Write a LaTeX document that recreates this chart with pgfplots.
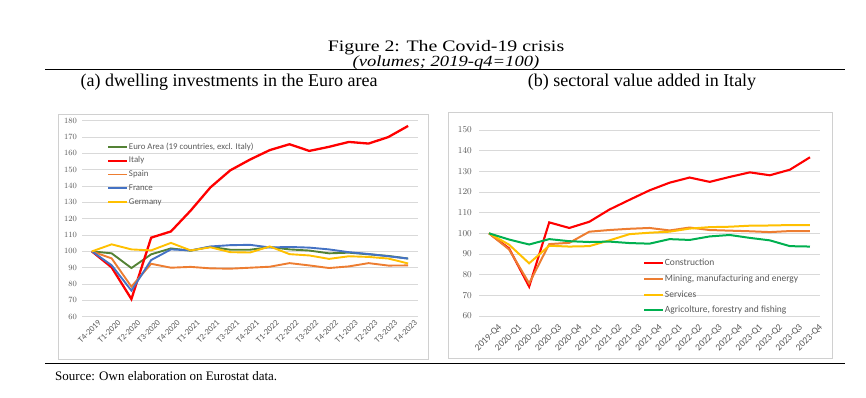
\documentclass[border=0pt]{standalone}
\usepackage{pgfplots}
\usepackage{pgfplotstable}
\pgfplotsset{compat=1.18}
\usepackage{fontspec}
\setmainfont{Liberation Serif}
\newfontfamily\calibri{Carlito}
\definecolor{cRed}{HTML}{FF0000}
\definecolor{cOrange}{HTML}{ED7D31}
\definecolor{cBlue}{HTML}{4472C4}
\definecolor{cYellow}{HTML}{FFC000}
\definecolor{cDGreen}{HTML}{548235}
\definecolor{cGreen}{HTML}{00B050}
\definecolor{cGrid}{HTML}{D9D9D9}
\definecolor{cFrame}{HTML}{D0D0D0}
\definecolor{cText}{HTML}{595959}

\pgfplotstableread{
x EA IT ES FR DE
0 100 100 100 100 100
1 98.8 90.2 95.7 91.5 104.3
2 89.8 70.8 78.4 76.0 101.2
3 98.2 108.4 92.4 94.7 100.6
4 101.8 112.2 90.0 101.2 105.2
5 100.4 125.0 90.5 100.6 100.6
6 102.8 139.2 89.6 103.0 102.5
7 101.0 149.6 89.4 103.8 99.5
8 101.0 156.2 90.0 104.0 99.3
9 102.6 162.0 90.6 102.4 103.0
10 101.2 165.6 92.8 102.7 98.3
11 100.5 161.5 91.4 102.3 97.5
12 98.8 164.0 89.8 101.2 95.4
13 99.2 167.0 90.8 99.5 97.0
14 98.2 166.0 92.8 98.4 96.6
15 97.2 170.0 91.3 97.0 95.6
16 95.6 176.8 91.4 95.6 92.6
}\tabA

\pgfplotstableread{
x CON MIN SER AGR
0 100 100 100 100
1 92.7 92.2 94.5 97.0
2 74.2 75.8 85.5 94.6
3 105.3 94.8 94.0 97.2
4 102.6 95.4 93.6 96.2
5 105.6 100.8 93.8 95.8
6 111.5 101.6 96.6 96.0
7 116.2 102.2 99.6 95.3
8 120.8 102.6 100.3 95.0
9 124.5 101.4 100.8 97.2
10 127.0 102.8 102.3 96.8
11 124.9 101.6 103.0 98.5
12 127.3 101.3 103.2 99.2
13 129.5 101.0 103.7 97.8
14 128.1 100.6 103.8 96.6
15 130.8 101.1 104.0 93.8
16 136.8 101.1 104.0 93.6
}\tabB

\pgfplotsset{
  excelstyle/.style={
    scale only axis,
    xmin=-0.5, xmax=16.5,
    xtick={0,...,16},
    axis line style={draw=none},
    major tick length=0pt,
    ymajorgrids,
    grid style={cGrid, line width=0.7pt},
    no markers,
    yticklabel style={anchor=east, inner sep=0pt},
    legend cell align=left,
    legend image code/.code={\draw[##1] (0pt,0pt) -- (19pt,0pt);},
  }
}

\begin{document}
\begin{tikzpicture}[x=1pt,y=1pt]
\path[use as bounding box] (0,0) rectangle (866,397);
% frames
\draw[cFrame, line width=0.8pt] (58,38) rectangle (428,283);
\draw[cFrame, line width=0.8pt] (448,39) rectangle (832,285);
% rules
\draw[line width=0.9pt] (45,327.5) -- (845,327.5);
\draw[line width=0.9pt] (45,34) -- (845,34);
% titles
\node[anchor=base, inner sep=0pt] at (446,345) {\scalebox{1.24}[1]{\fontsize{16}{18}\selectfont Figure 2: The Covid-19 crisis}};
\node[anchor=base, inner sep=0pt] at (446,330.5) {\scalebox{1.2}[1]{\fontsize{15.5}{18}\selectfont\itshape (volumes; 2019-q4=100)}};
\node[anchor=base, inner sep=0pt] at (229,310) {\fontsize{18}{20}\selectfont (a) dwelling investments in the Euro area};
\node[anchor=base, inner sep=0pt] at (642,310) {\fontsize{18}{20}\selectfont (b) sectoral value added in Italy};
\node[anchor=base west, inner sep=0pt] at (55,17) {\fontsize{13}{15}\selectfont Source: Own elaboration on Eurostat data.};

\begin{axis}[excelstyle,
  at={(82pt,80.3pt)}, anchor=south west,
  width=336pt, height=196pt,
  ymin=60, ymax=180, ytick={60,70,...,180},
  tick label style={font=\calibri\fontsize{8.5}{9}\selectfont, text=cText},
  yticklabel style={xshift=-5pt},
  xticklabels={T4-2019,T1-2020,T2-2020,T3-2020,T4-2020,T1-2021,T2-2021,T3-2021,T4-2021,T1-2022,T2-2022,T3-2022,T4-2022,T1-2023,T2-2023,T3-2023,T4-2023},
  xticklabel style={rotate=45, anchor=east, inner sep=0pt, xshift=2pt, yshift=-9pt},
  legend style={at={(0.074,0.9026)}, anchor=north west, draw=none, fill=none,
    font=\calibri\fontsize{8.8}{10}\selectfont, text=cText, inner sep=0pt,
    row sep=0pt, nodes={inner sep=0.6pt, minimum height=13.8pt},
    /tikz/every even column/.append style={column sep=0pt}},
]
\addplot[cDGreen, line width=1.9pt] table[x=x,y=EA]{\tabA};
\addlegendentry{Euro Area (19 countries, excl. Italy)}
\addplot[cRed, line width=2.3pt] table[x=x,y=IT]{\tabA};
\addlegendentry{Italy}
\addplot[cOrange, line width=1.9pt] table[x=x,y=ES]{\tabA};
\addlegendentry{Spain}
\addplot[cBlue, line width=1.9pt] table[x=x,y=FR]{\tabA};
\addlegendentry{France}
\addplot[cYellow, line width=1.9pt] table[x=x,y=DE]{\tabA};
\addlegendentry{Germany}
\end{axis}

\begin{axis}[excelstyle,
  at={(479pt,81pt)}, anchor=south west,
  width=341pt, height=186pt,
  ymin=60, ymax=150, ytick={60,70,...,150},
  tick label style={font=\calibri\fontsize{9.5}{10}\selectfont, text=cText},
  yticklabel style={xshift=-7pt},
  xticklabels={2019-Q4,2020-Q1,2020-Q2,2020-Q3,2020-Q4,2021-Q1,2021-Q2,2021-Q3,2021-Q4,2022-Q1,2022-Q2,2022-Q3,2022-Q4,2023-Q1,2023-Q2,2023-Q3,2023-Q4},
  xticklabel style={rotate=45, anchor=east, inner sep=0pt, xshift=1pt, yshift=-15pt},
  legend style={at={(0.481,0.329)}, anchor=north west, draw=none, fill=none,
    font=\calibri\fontsize{9.5}{10}\selectfont, text=cText, inner sep=0pt,
    row sep=0pt, nodes={inner sep=0.6pt, minimum height=15.8pt},
    /tikz/every even column/.append style={column sep=0pt}},
]
\addplot[cRed, line width=2.1pt] table[x=x,y=CON]{\tabB};
\addlegendentry{Construction}
\addplot[cOrange, line width=2pt] table[x=x,y=MIN]{\tabB};
\addlegendentry{Mining, manufacturing and energy}
\addplot[cYellow, line width=2pt] table[x=x,y=SER]{\tabB};
\addlegendentry{Services}
\addplot[cGreen, line width=2pt] table[x=x,y=AGR]{\tabB};
\addlegendentry{Agricolture, forestry and fishing}
\end{axis}
\end{tikzpicture}
\end{document}
